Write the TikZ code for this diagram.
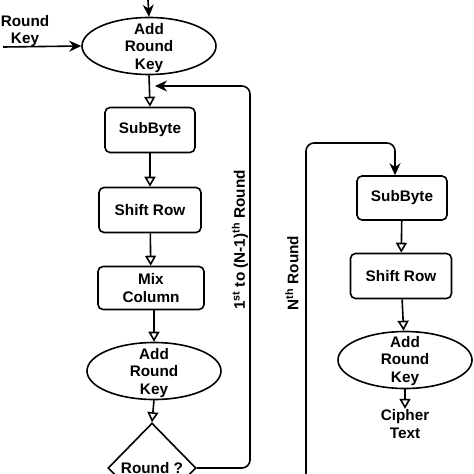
\documentclass[tikz,border=0pt]{standalone}
\usepackage{fontspec}
\setmainfont{Liberation Sans}
\usetikzlibrary{arrows.meta,shapes.geometric}

\begin{document}
\begin{tikzpicture}[x=1pt,y=-1pt,line width=1.6pt,
    every node/.style = {font=\fontsize{15.3}{17.5}\selectfont\bfseries, align=center},
    stepbox/.style = {draw, rounded corners=5pt, minimum height=45pt, inner sep=0pt},
    keyell/.style = {draw, ellipse, minimum width=134pt, minimum height=57pt, inner sep=0pt},
    flow/.style = {-{Triangle[open,length=10pt,width=11pt]}},
    backloop/.style = {-{Stealth[length=12pt,width=11pt]}, rounded corners=8pt}]
\useasboundingbox (0,0) rectangle (474,474);
\clip (0,0) rectangle (474,474);
\node[keyell, label={[yshift=-2pt]center:Add\\Round\\Key}] (ark1) at (149,46) {};
\node[stepbox, minimum width=90pt] (sb1) at (150,130) {SubByte};
\node[stepbox, minimum width=102pt] (sr1) at (150,210) {Shift Row};
\node[stepbox, minimum width=106pt, minimum height=43pt] (mc) at (151,288) {Mix\\Column};
\node[keyell, label={[yshift=-2pt]center:Add\\Round\\Key}] (ark2) at (154,371) {};
\node[draw, diamond, minimum width=88pt, minimum height=90pt, inner sep=0pt] (rnd) at (152,468) {Round ?};
\node[stepbox, minimum width=90pt, minimum height=44pt] (sb2) at (402,198) {SubByte};
\node[stepbox, minimum width=101pt] (sr2) at (401,276) {Shift Row};
\node[keyell, label={[yshift=-1pt]center:Add\\Round\\Key}] (ark3) at (405,360) {};
\node[inner sep=0pt] (ct) at (405,424) {Cipher\\Text};
\node[inner sep=0pt] (rk) at (25,31) {Round\\Key};
\node[rotate=90] (lbl1) at (240,240) {1\textsuperscript{st} to (N-1)\textsuperscript{th} Round};
\node[rotate=90] (lbl2) at (292,273) {N\textsuperscript{th} Round};
\coordinate (pin) at (148,0);
\coordinate (rkin) at (3,47);
\coordinate (back) at (155,86);
\coordinate (nin) at (306,480);
\draw[backloop] (pin) -- (ark1.north);
\draw[backloop] (rkin) -- (ark1.west);
\draw[flow] (ark1.south) -- (sb1.north);
\draw[flow] (sb1) -- (sr1);
\draw[flow] (sr1) -- (mc);
\draw[flow] (mc.south -| ark2.north) -- (ark2.north);
\draw[flow] (ark2.south) -- (rnd.north);
\draw[backloop] (rnd.east) -| (250,86) -- (back);
\draw[backloop] (nin) |- (395,143) -- ([xshift=-7pt]sb2.north);
\draw[flow] (sb2) -- (sr2);
\draw[flow] (sr2) -- (ark3);
\draw[flow] (ark3) -- (ct);
\end{tikzpicture}
\end{document}
